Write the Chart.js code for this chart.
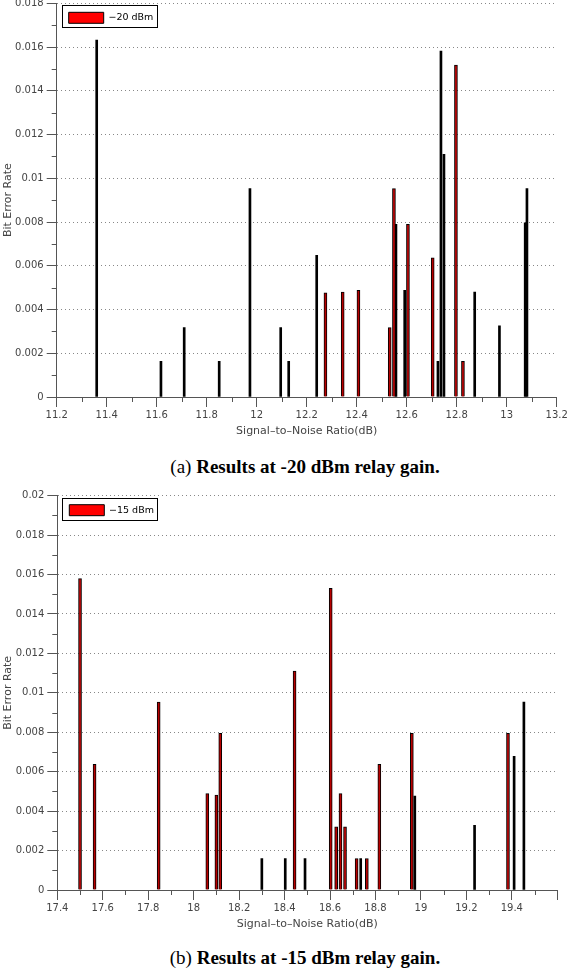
<!DOCTYPE html>
<html><head><meta charset="utf-8">
<script src="https://cdn.jsdelivr.net/npm/chart.js@4.4.1/dist/chart.umd.min.js"></script>
<style>
html,body{margin:0;padding:0;background:#fff;width:567px;height:970px;overflow:hidden;position:relative}
.wrap{position:absolute;left:0;width:600px}
#wa{top:-20px;height:462px}
#wb{top:475px;height:460px}
.cap{position:absolute;left:0;width:610px;text-align:center;font-family:"Liberation Serif","Times New Roman",serif;font-size:19px;line-height:22px;color:#000;white-space:nowrap}
.cap b{font-weight:bold}
</style></head><body>
<div class="wrap" id="wa"><canvas id="ca"></canvas></div>
<div class="cap" style="top:456px">(a) <b>Results at -20 dBm relay gain.</b></div>
<div class="wrap" id="wb"><canvas id="cb"></canvas></div>
<div class="cap" style="top:947px">(b) <b>Results at -15 dBm relay gain.</b></div>
<script>
// ---- Data: (a) -20 dBm relay gain ----
const snrA_red = [12.275, 12.344, 12.407, 12.532, 12.549, 12.605, 12.704, 12.797, 12.825];
const berA_red = [0.00476, 0.0048, 0.00488, 0.00317, 0.00953, 0.0079, 0.00636, 0.01517, 0.00163];
const snrA_blk = [11.36, 11.617, 11.71, 11.85, 11.973, 12.096, 12.128, 12.24, 12.557, 12.592, 12.725, 12.737, 12.749, 12.872, 12.971, 13.074, 13.081];
const berA_blk = [0.01632, 0.00163, 0.00317, 0.00163, 0.00953, 0.00317, 0.00163, 0.00648, 0.0079, 0.00488, 0.00163, 0.01582, 0.0111, 0.0048, 0.00325, 0.00796, 0.00953];
// ---- Data: (b) -15 dBm relay gain ----
const snrB_red = [17.5, 17.564, 17.846, 18.06, 18.1, 18.117, 18.444, 18.603, 18.627, 18.646, 18.666, 18.717, 18.762, 18.817, 18.96, 19.383];
const berB_red = [0.0158, 0.00637, 0.00953, 0.00489, 0.00482, 0.00795, 0.0111, 0.0153, 0.0032, 0.00489, 0.0032, 0.0016, 0.0016, 0.00637, 0.00795, 0.00795];
const snrB_blk = [18.30, 18.403, 18.49, 18.735, 18.973, 19.236, 19.41, 19.453];
const berB_blk = [0.0016, 0.0016, 0.0016, 0.0016, 0.00477, 0.00328, 0.00678, 0.00953];
// ---- Axis ranges / labels ----
const xRangeA = [11.2, 13.2];
const xRangeB = [17.4, 19.6];
const yMaxA = 0.018;
const yMaxB = 0.02;
const legendA = '\u221220 dBm';
const legendB = '\u221215 dBm';
const xTitle = 'Signal\u2013to\u2013Noise Ratio(dB)';
const yTitle = 'Bit Error Rate';

const toPts = (xs, ys) => xs.map((x, i) => ({x: x, y: ys[i]}));

const figureDecor = {
  id: 'figureDecor',
  beforeDraw(chart) {
    const lg = chart.legend;
    if (!lg) return;
    const dx = chart.chartArea.left + 3 - lg.left;
    const dy = chart.chartArea.top - lg.top;
    lg.left += dx; lg.right += dx; lg.top += dy; lg.bottom += dy;
    (lg.legendHitBoxes || []).forEach(h => { h.left += dx; h.top += dy; });
  },
  afterDraw(chart) {
    const ctx = chart.ctx;
    const xs = chart.scales.x, ys = chart.scales.y;
    ctx.save();
    ctx.strokeStyle = '#555';
    ctx.lineWidth = 1;
    ctx.beginPath();
    const xt = xs.ticks;
    for (let i = 0; i < xt.length - 1; i++) {
      const px = Math.round(xs.getPixelForValue((xt[i].value + xt[i + 1].value) / 2)) + 0.5;
      ctx.moveTo(px, xs.top); ctx.lineTo(px, xs.top + 5);
    }
    const yt = ys.ticks;
    for (let i = 0; i < yt.length - 1; i++) {
      const py = Math.round(ys.getPixelForValue((yt[i].value + yt[i + 1].value) / 2)) + 0.5;
      ctx.moveTo(ys.right - 5, py); ctx.lineTo(ys.right, py);
    }
    ctx.stroke();
    const hb = chart.legend && chart.legend.legendHitBoxes && chart.legend.legendHitBoxes[0];
    if (hb) {
      ctx.strokeStyle = '#000';
      ctx.strokeRect(Math.round(hb.left - 7) + 0.5, Math.round(hb.top - 7) + 0.5, Math.round(hb.width + 10), Math.round(hb.height + 11));
    }
    ctx.restore();
  }
};

function makeChart(id, o) {
  return new Chart(document.getElementById(id), {
    type: 'bar',
    data: {
      datasets: [
        { label: o.legend, data: toPts(o.rx, o.ry), backgroundColor: '#b80000', borderColor: '#000', borderWidth: 1, borderSkipped: 'start', barThickness: 3, grouped: false },
        { label: 'other', data: toPts(o.bx, o.by), backgroundColor: '#000', borderWidth: 0, barThickness: 2, grouped: false }
      ]
    },
    options: {
      responsive: true, maintainAspectRatio: false, animation: false, events: [],
      layout: { padding: { left: 0, right: o.padRight, top: o.padTop, bottom: 0 } },
      plugins: {
        tooltip: { enabled: false },
        legend: {
          position: 'chartArea', align: 'start',
          labels: { boxWidth: 35, boxHeight: 11, padding: 9, color: '#000', font: { size: 9.5, family: 'DejaVu Sans' },
            filter: (item) => item.datasetIndex === 0,
            generateLabels: (chart) => Chart.defaults.plugins.legend.labels.generateLabels(chart).map(l => Object.assign(l, { fillStyle: '#ff0000' })) }
        }
      },
      scales: {
        x: {
          type: 'linear', min: o.xr[0], max: o.xr[1], offset: false,
          grid: { offset: false, drawOnChartArea: false, drawTicks: true, tickLength: 10, tickColor: '#555' },
          border: { color: '#555', width: 1 },
          ticks: { stepSize: 0.2, autoSkip: false, maxRotation: 0, padding: 2, color: '#444', font: { size: 10, family: 'DejaVu Sans' },
            callback: (v) => (Math.abs(v - o.xr[1]) < 1e-9 && o.hideLast) ? '' : String(+(+v).toFixed(1)) },
          title: { display: true, text: xTitle, color: '#444', font: { size: 11, family: 'DejaVu Sans' }, padding: { top: 0, bottom: 4.4 } },
          afterFit: (s) => { s.height = 45; }
        },
        y: {
          min: 0, max: o.ymax,
          grid: { color: (c) => c.tick && c.tick.value === 0 ? 'rgba(0,0,0,0)' : '#888', tickLength: 10, tickColor: '#555' },
          border: { color: '#555', width: 1, dash: [1, 3] },
          ticks: { stepSize: 0.002, padding: 3, color: '#444', font: { size: 10, family: 'DejaVu Sans' },
            callback: (v) => v === 0 ? '0' : String(+(+v).toFixed(3)) },
          title: { display: true, text: yTitle, color: '#444', font: { size: 11, family: 'DejaVu Sans' }, padding: { top: 1.4, bottom: 0 } },
          afterFit: (s) => { s.width = o.yw; }
        }
      }
    },
    plugins: [figureDecor]
  });
}

makeChart('ca', { legend: legendA, rx: snrA_red, ry: berA_red, bx: snrA_blk, by: berA_blk, xr: xRangeA, ymax: yMaxA, padRight: 43.3, padTop: 23.3, yw: 56.7, hideLast: false });
makeChart('cb', { legend: legendB, rx: snrB_red, ry: berB_red, bx: snrB_blk, by: berB_blk, xr: xRangeB, ymax: yMaxB, padRight: 42.7, padTop: 20.7, yw: 57.3, hideLast: true });
</script>
</body></html>
